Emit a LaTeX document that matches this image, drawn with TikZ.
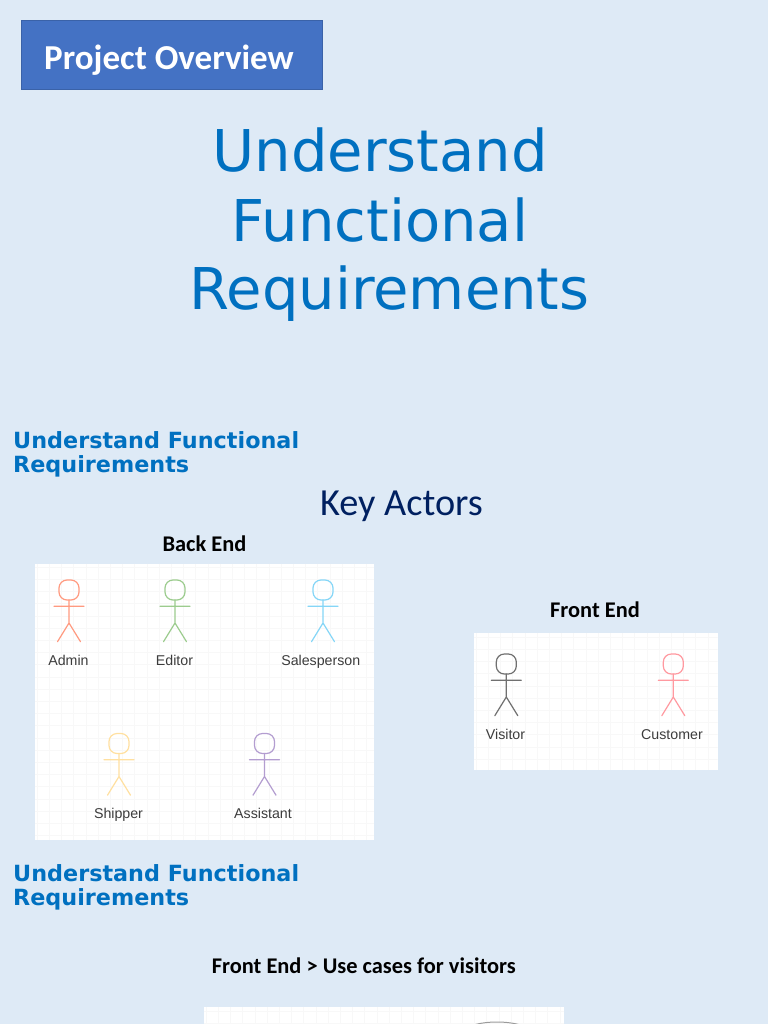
\documentclass[tikz,border=0pt]{standalone}
\usepackage{fontspec}
\setmainfont{Carlito}
\newfontfamily\dejavu{DejaVu Sans}
\newfontfamily\libsans{Liberation Sans}
\definecolor{pagebg}{HTML}{DEEAF6}
\definecolor{btnblue}{HTML}{4472C4}
\definecolor{btnedge}{HTML}{3A62A8}
\definecolor{titleblue}{HTML}{0070C0}
\definecolor{navy}{HTML}{002060}
\definecolor{gridline}{HTML}{F8F8F8}
\definecolor{labelgrey}{HTML}{3C3C3C}
\definecolor{cAdmin}{HTML}{FF9A80}
\definecolor{cEditor}{HTML}{9CCC8E}
\definecolor{cSales}{HTML}{85D6F7}
\definecolor{cShip}{HTML}{FFE0A0}
\definecolor{cAssist}{HTML}{B39DD0}
\definecolor{cVisit}{HTML}{707070}
\definecolor{cCust}{HTML}{FF99A0}
\tikzset{
  panel/.style={fill=white,draw=none},
  gridlines/.style={draw=gridline,line width=0.5pt},
  bluetitle/.style={text=titleblue,font=\dejavu\fontsize{57.6}{66}\selectfont,inner sep=0pt,anchor=base},
  sectionhead/.style={text=titleblue,font=\dejavu\bfseries\fontsize{22.3}{24}\selectfont,inner sep=0pt,anchor=base west},
  boldlabel/.style={text=black,font=\bfseries\fontsize{22.4}{26}\selectfont,inner sep=0pt,anchor=base},
  actorlabel/.style={text=labelgrey,font=\libsans\fontsize{14.2}{16}\selectfont,inner sep=0pt,anchor=base},
  stick/.style={line width=1.2pt,line cap=round,line join=round}
}
% #1 x of the figure, #2 y of the top of the head, #3 colour
\newcommand{\stickman}[3]{%
  \draw[stick,draw=#3,rounded corners=8pt] (#1-10,#2) rectangle (#1+10,#2+20);
  \draw[stick,draw=#3] (#1,#2+20) -- (#1,#2+43) (#1-15,#2+26.3) -- (#1+15,#2+26.3)
     (#1-11.5,#2+61.7) -- (#1,#2+43) -- (#1+11.5,#2+61.7);
}
\begin{document}
\begin{tikzpicture}[x=1pt,y=-1pt]
\useasboundingbox (0,0) rectangle (768,1024);
\fill[pagebg] (0,0) rectangle (768,1024);

\node[draw=btnedge,fill=btnblue,line width=0.8pt,minimum width=300.5pt,minimum height=69pt,inner sep=0pt,anchor=north west] (badge) at (21.3,20.4) {};
\node[text=white,font=\bfseries\fontsize{35}{42}\selectfont,inner sep=0pt,anchor=base] (badgetext) at (169,69.3) {Project Overview};

\node[bluetitle] (title1) at (380,172) {Understand};
\node[bluetitle] (title2) at (380,241) {Functional};
\node[bluetitle] (title3) at (389.3,309.5) {Requirements};

\node[sectionhead] (headA) at (13,448) {Understand Functional};
\node[sectionhead] (headAb) at (13,472) {Requirements};
\node[font=\fontsize{38.3}{44}\selectfont,text=navy,inner sep=0pt,anchor=base] (keyactors) at (401.5,515) {Key Actors};
\node[boldlabel] (backend) at (204.5,551) {Back End};
\node[boldlabel] (frontend) at (595,617) {Front End};

% Back End panel
\fill[panel] (35,563.5) rectangle (374,839.5);
\begin{scope}
\clip (35,563.5) rectangle (374,839.5);
\foreach \gx in {0,...,28} \draw[gridlines] (37+\gx*12.2,563.5) -- (37+\gx*12.2,839.5);
\foreach \gy in {0,...,22} \draw[gridlines] (35,567+\gy*12.2) -- (374,567+\gy*12.2);
\end{scope}
\stickman{69}{580}{cAdmin}
\stickman{175}{580}{cEditor}
\stickman{323}{580}{cSales}
\stickman{119}{733.5}{cShip}
\stickman{264.5}{733.5}{cAssist}
\node[actorlabel] (admin) at (68.5,665) {Admin};
\node[actorlabel] (editor) at (174.5,665) {Editor};
\node[actorlabel] (sales) at (320.8,665) {Salesperson};
\node[actorlabel] (shipper) at (118.5,818.3) {Shipper};
\node[actorlabel] (assistant) at (263,818.3) {Assistant};

% Front End panel
\fill[panel] (474,633) rectangle (717.5,769.5);
\begin{scope}
\clip (474,633) rectangle (717.5,769.5);
\foreach \gx in {0,...,20} \draw[gridlines] (476+\gx*12.2,633) -- (476+\gx*12.2,769.5);
\foreach \gy in {0,...,11} \draw[gridlines] (474,637+\gy*12.2) -- (717.5,637+\gy*12.2);
\end{scope}
\stickman{506.3}{654}{cVisit}
\stickman{673.3}{654}{cCust}
\node[actorlabel] (visitor) at (505.5,739) {Visitor};
\node[actorlabel] (customer) at (672,739) {Customer};

\node[sectionhead] (headB) at (13,881) {Understand Functional};
\node[sectionhead] (headBb) at (13,905) {Requirements};
\node[boldlabel] (usecases) at (363.8,973.5) {Front End > Use cases for visitors};

% Use-case panel, cut by the page edge
\fill[panel] (204,1007) rectangle (564,1024);
\begin{scope}
\clip (204,1007) rectangle (564,1024);
\foreach \gx in {0,...,29} \draw[gridlines] (206+\gx*12.2,1007) -- (206+\gx*12.2,1024);
\foreach \gy in {0,1} \draw[gridlines] (204,1011+\gy*12.2) -- (564,1011+\gy*12.2);
\draw[draw=cVisit!70,line width=1pt] (497,1036) ellipse [x radius=38pt,y radius=14pt];
\end{scope}
\end{tikzpicture}
\end{document}
